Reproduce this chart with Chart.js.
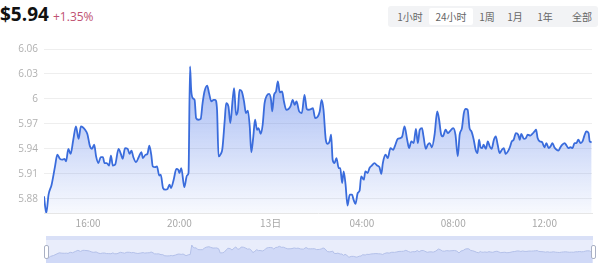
<!DOCTYPE html>
<html>
<head>
<meta charset="utf-8">
<script src="https://cdn.jsdelivr.net/npm/chart.js@4.4.0/dist/chart.umd.min.js"></script>
<style>
  body { margin: 0; background: #fff; }
  #wrap { position: relative; width: 600px; height: 267px; overflow: hidden; font-family: "Open Sans", "Noto Sans", sans-serif; }
  #price { position: absolute; left: 0; top: 1px; font-size: 19px; font-weight: 700; color: #111; }
  #change { position: absolute; left: 53px; top: 8px; font-size: 12px; color: #c05272; }
  #ranges { position: absolute; left: 388px; top: 6px; width: 210px; height: 21px; background: #f2f3f5; border-radius: 3px; }
  #ranges span { position: absolute; top: 2px; height: 17px; line-height: 17px; text-align: center; font-family: "Noto Sans CJK SC", sans-serif; font-size: 10px; color: #666; border-radius: 2px; }
  #ranges span.on { background: #fff; }
  #main { position: absolute; left: 0; top: 0; }
  #band { position: absolute; left: 46px; top: 236px; width: 547px; height: 27px; background: #e9edfb; }
  #bandTop { position: absolute; left: 46px; top: 236px; width: 547px; height: 4px; background: #d9e0f7; }
  #mini { position: absolute; left: 46px; top: 240px; }
  .handle { position: absolute; top: 245px; width: 3px; height: 12px; background: #fff; border: 1px solid #a9b0c4; border-radius: 2px; }
</style>
</head>
<body>
<div id="wrap">
  <div id="price"></div>
  <div id="change"></div>
  <div id="ranges"></div>
  <canvas id="main" width="600" height="267"></canvas>
  <div id="band"></div>
  <div id="bandTop"></div>
  <canvas id="mini" width="547" height="23"></canvas>
  <div class="handle" style="left:44px"></div>
  <div class="handle" style="left:591px"></div>
</div>
<script>
// minutes since 00:00 on the 12th, price in USD
var minutes = [
  844, 850, 856, 864, 873, 879, 886, 892, 898, 902, 908, 914, 921, 928, 935, 941, 946, 952, 958, 965,
  970, 976, 981, 987, 993, 999, 1003, 1009, 1015, 1020, 1025, 1031, 1040, 1046, 1051, 1057, 1064, 1069, 1074, 1079,
  1086, 1093, 1100, 1104, 1111, 1116, 1121, 1126, 1130, 1136, 1141, 1147, 1151, 1157, 1163, 1169, 1174, 1178, 1185, 1192,
  1197, 1200,
  1205, 1213, 1220, 1224, 1228, 1231, 1235, 1240, 1244, 1250, 1256, 1261, 1266, 1273, 1278, 1284, 1290, 1294, 1299, 1303,
  1309, 1313, 1319, 1323, 1329, 1334, 1340, 1344, 1349, 1354, 1358, 1364, 1370, 1375, 1380, 1385, 1389, 1394, 1399, 1404,
  1408, 1414, 1419, 1424, 1430, 1436, 1441, 1444, 1449, 1454, 1459, 1464, 1470, 1475, 1481, 1487, 1492, 1498, 1503, 1508,
  1515, 1522, 1529, 1535, 1540, 1547,
  1551, 1557, 1564, 1569, 1574, 1579, 1585, 1590, 1595, 1599, 1603, 1608, 1613, 1619, 1623, 1628, 1632, 1637, 1642, 1648,
  1654, 1658, 1663, 1669, 1674, 1678, 1685, 1689, 1695, 1700, 1706, 1713, 1720, 1726, 1731, 1735, 1742, 1748, 1755, 1762,
  1768, 1774, 1781, 1786, 1792, 1799, 1804, 1810, 1816, 1822, 1827, 1832, 1838, 1842, 1848, 1853, 1858, 1864, 1871, 1878,
  1883, 1888, 1893, 1900, 1906, 1911,
  1920, 1926, 1932, 1937, 1943, 1948, 1953, 1958, 1963, 1968, 1974, 1979, 1984, 1988, 1992, 1996, 2000, 2006, 2011, 2016,
  2021, 2027, 2032, 2037, 2042, 2048, 2053, 2058, 2064, 2069, 2074, 2079, 2085, 2091, 2095, 2099, 2106, 2111, 2116, 2123,
  2128, 2134, 2138, 2142, 2148, 2154, 2160, 2165, 2171, 2176, 2181, 2186, 2192, 2197, 2202, 2207, 2213, 2218, 2223, 2228,
  2234, 2239, 2244, 2249, 2255, 2260, 2265, 2270, 2276, 2279, 2284
];
var prices = [
  5.883, 5.863, 5.885, 5.897, 5.919, 5.933, 5.928, 5.927, 5.928, 5.925, 5.940, 5.934, 5.951, 5.967, 5.952, 5.967, 5.966, 5.963, 5.958, 5.943,
  5.940, 5.945, 5.931, 5.923, 5.930, 5.930, 5.923, 5.923, 5.920, 5.932, 5.920, 5.921, 5.940, 5.934, 5.928, 5.941, 5.940, 5.934, 5.938, 5.930,
  5.924, 5.930, 5.936, 5.929, 5.933, 5.934, 5.944, 5.933, 5.919, 5.918, 5.919, 5.908, 5.909, 5.893, 5.891, 5.892, 5.897, 5.893, 5.903, 5.916,
  5.915, 5.911,
  5.917, 5.894, 5.908, 5.911, 6.039, 6.011, 6.001, 5.999, 5.977, 5.975, 5.976, 5.995, 6.009, 6.016, 6.007, 5.997, 5.999, 5.999, 5.987, 5.931,
  5.934, 5.940, 5.973, 5.995, 5.991, 5.971, 5.999, 6.013, 5.981, 5.987, 6.011, 6.009, 5.997, 5.983, 5.986, 5.967, 5.936, 5.953, 5.975, 5.963,
  5.965, 5.958, 5.969, 5.995, 6.004, 6.006, 5.999, 5.985, 6.005, 6.009, 6.021, 6.008, 6.009, 5.997, 5.987, 5.988, 5.991, 5.999, 5.993, 5.997,
  5.985, 5.983, 6.005, 5.988, 5.987, 5.988,
  5.989, 5.977, 5.979, 5.985, 5.999, 5.987, 5.951, 5.946, 5.949, 5.957, 5.927, 5.923, 5.929, 5.917, 5.917, 5.899, 5.913, 5.897, 5.872, 5.885,
  5.885, 5.879, 5.874, 5.887, 5.890, 5.907, 5.903, 5.913, 5.911, 5.917, 5.920, 5.923, 5.920, 5.918, 5.910, 5.923, 5.933, 5.929, 5.941, 5.939,
  5.945, 5.952, 5.953, 5.955, 5.967, 5.951, 5.941, 5.949, 5.947, 5.964, 5.947, 5.963, 5.965, 5.955, 5.940, 5.945, 5.947, 5.942, 5.957, 5.985,
  5.975, 5.958, 5.955, 5.963, 5.959, 5.961,
  5.965, 5.957, 5.931, 5.957, 5.965, 5.983, 5.988, 5.987, 5.965, 5.961, 5.951, 5.939, 5.935, 5.951, 5.942, 5.941, 5.945, 5.940, 5.949, 5.943,
  5.940, 5.951, 5.955, 5.945, 5.935, 5.939, 5.941, 5.934, 5.937, 5.942, 5.949, 5.951, 5.959, 5.957, 5.951, 5.958, 5.952, 5.953, 5.957, 5.956,
  5.958, 5.961, 5.963, 5.953, 5.949, 5.948, 5.942, 5.947, 5.941, 5.943, 5.947, 5.942, 5.939, 5.938, 5.942, 5.945, 5.947, 5.944, 5.941, 5.942,
  5.941, 5.947, 5.947, 5.951, 5.947, 5.949, 5.956, 5.961, 5.959, 5.949, 5.948
];

var xTickValues = [960, 1200, 1440, 1680, 1920, 2160];
var xTickLabels = ["16:00", "20:00", "13日", "04:00", "08:00", "12:00"];
var yTickValues = [5.88, 5.91, 5.94, 5.97, 6, 6.03, 6.06];
var rangeLabels = ["1小时", "24小时", "1周", "1月", "1年", "全部"];
var currentPrice = "$5.94";
var priceChange = "+1.35%";

document.getElementById("price").textContent = currentPrice;
document.getElementById("change").textContent = priceChange;

// range buttons (centre x, width)
var rangePos = [[22, 36], [63, 44], [99, 28], [127, 28], [157, 28], [194, 34]];
let ranges = document.getElementById("ranges");
rangeLabels.forEach(function(label, i) {
  let s = document.createElement("span");
  s.textContent = label;
  s.style.left = (rangePos[i][0] - rangePos[i][1] / 2) + "px";
  s.style.width = rangePos[i][1] + "px";
  if (i == 1) s.className = "on";
  ranges.appendChild(s);
});

let points = minutes.map(function(m, i) {
  return { x: m, y: prices[i] };
});

function areaGradient(context) {
  let chart = context.chart;
  let area = chart.chartArea;
  if (!area) return null;
  let g = chart.ctx.createLinearGradient(0, area.top, 0, area.bottom);
  g.addColorStop(0, "rgba(66, 110, 230, 0.55)");
  g.addColorStop(1, "rgba(66, 110, 230, 0.04)");
  return g;
}

new Chart(document.getElementById("main"), {
  type: "line",
  data: {
    datasets: [{
      data: points,
      borderColor: "#3a6cdc",
      borderWidth: 1.8,
      pointRadius: 0,
      cubicInterpolationMode: "monotone",
      fill: "start",
      backgroundColor: areaGradient
    }]
  },
  options: {
    responsive: false,
    animation: false,
    events: [],
    layout: { padding: { top: 49, right: 8, bottom: 34, left: 0 } },
    plugins: { legend: { display: false }, tooltip: { enabled: false } },
    scales: {
      x: {
        type: "linear",
        min: 844,
        max: 2285,
        afterFit: function(axis) { axis.height = 20; },
        afterBuildTicks: function(axis) {
          axis.ticks = xTickValues.map(function(v) { return { value: v }; });
        },
        ticks: {
          padding: 4,
          maxRotation: 0,
          color: "#a8a8a8",
          font: { size: 10, family: "'Noto Sans CJK SC', 'Open Sans', sans-serif" },
          callback: function(value) {
            let i = xTickValues.indexOf(value);
            return i >= 0 ? xTickLabels[i] : "";
          }
        },
        grid: { display: false, drawTicks: false },
        border: { display: true, color: "#e6e6e6", width: 1 }
      },
      y: {
        min: 5.863,
        max: 6.06,
        afterFit: function(axis) { axis.width = 44; },
        afterBuildTicks: function(axis) {
          axis.ticks = yTickValues.map(function(v) { return { value: v }; });
        },
        ticks: {
          padding: 6,
          color: "#b0b0b0",
          font: { size: 10, family: "'Open Sans', sans-serif" },
          callback: function(value) { return String(Number(value.toFixed(2))); }
        },
        grid: { color: "#eeeeee", drawTicks: false },
        border: { display: false }
      }
    }
  }
});

// data zoom preview
new Chart(document.getElementById("mini"), {
  type: "line",
  data: {
    datasets: [{
      data: points,
      borderColor: "#b3c0e8",
      borderWidth: 1,
      pointRadius: 0,
      fill: "start",
      backgroundColor: "rgba(196, 208, 245, 0.7)"
    }]
  },
  options: {
    responsive: false,
    animation: false,
    events: [],
    plugins: { legend: { display: false }, tooltip: { enabled: false } },
    scales: {
      x: { type: "linear", min: 844, max: 2285, display: false },
      y: { min: 5.795, max: 6.107, display: false }
    }
  }
});
</script>
</body>
</html>
